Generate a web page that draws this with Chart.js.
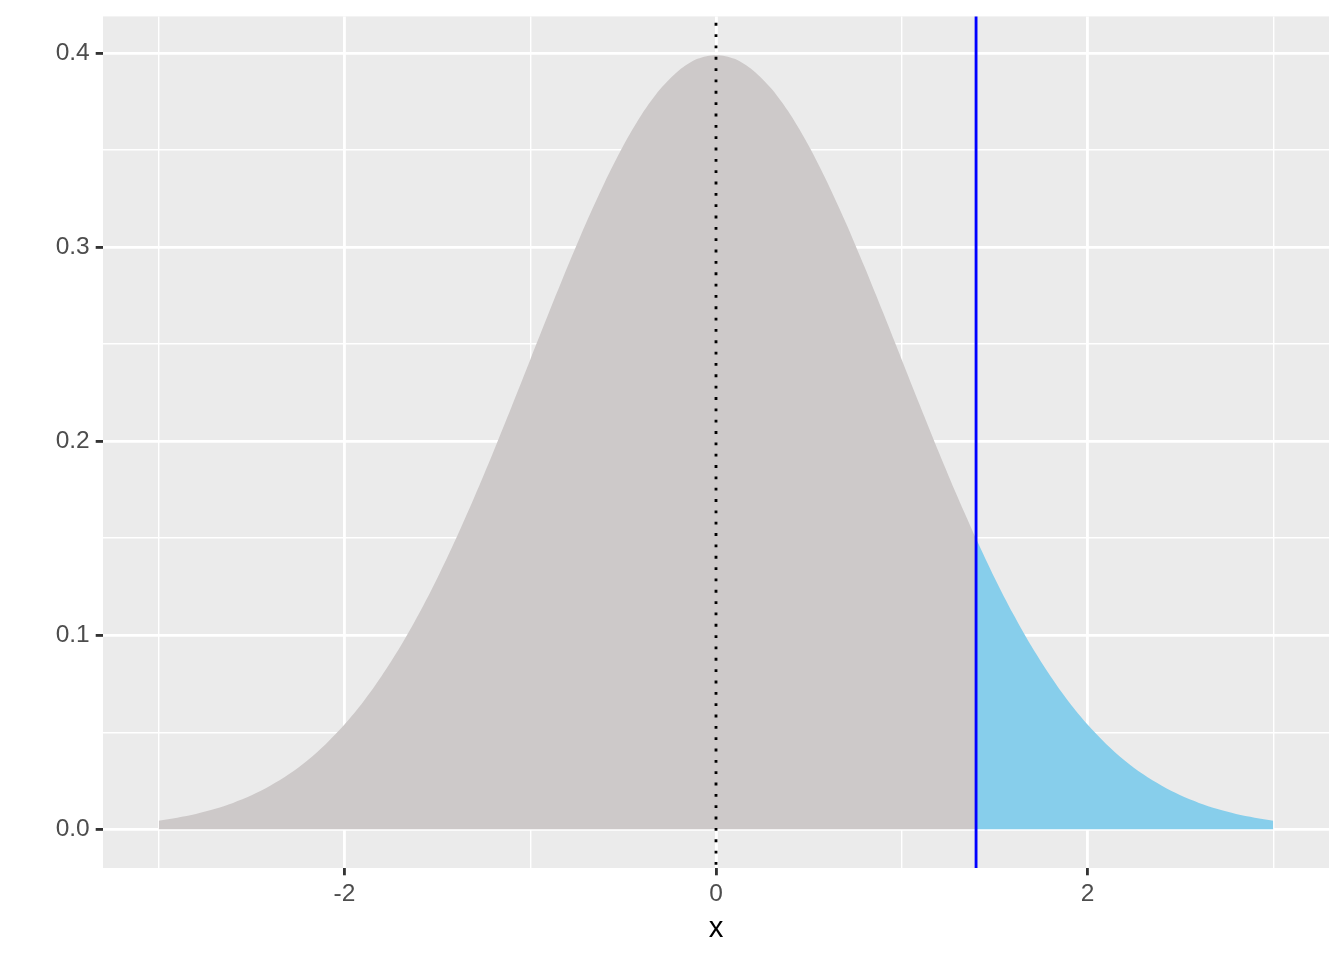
<!DOCTYPE html>
<html>
<head>
<meta charset="utf-8">
<script src="https://cdn.jsdelivr.net/npm/chart.js@4/dist/chart.umd.min.js"></script>
<style>
html,body{margin:0;padding:0;background:#fff;}
#wrap{width:1344px;height:960px;}
</style>
</head>
<body>
<div id="wrap"><canvas id="c" width="1344" height="960"></canvas></div>
<script>
// x values and density values
const xs = [-3.0,-2.9,-2.8,-2.7,-2.6,-2.5,-2.4,-2.3,-2.2,-2.1,-2.0,-1.9,-1.8,-1.7,-1.6,-1.5,-1.4,-1.3,-1.2,-1.1,-1.0,-0.9,-0.8,-0.7,-0.6,-0.5,-0.4,-0.3,-0.2,-0.1,0.0,0.1,0.2,0.3,0.4,0.5,0.6,0.7,0.8,0.9,1.0,1.1,1.2,1.3,1.4,1.5,1.6,1.7,1.8,1.9,2.0,2.1,2.2,2.3,2.4,2.5,2.6,2.7,2.8,2.9,3.0];
const density = [0.0044,0.0060,0.0079,0.0104,0.0136,0.0175,0.0224,0.0283,0.0355,0.0440,0.0540,0.0656,0.0790,0.0940,0.1109,0.1295,0.1497,0.1714,0.1942,0.2179,0.2420,0.2661,0.2897,0.3123,0.3332,0.3521,0.3683,0.3814,0.3910,0.3970,0.3989,0.3970,0.3910,0.3814,0.3683,0.3521,0.3332,0.3123,0.2897,0.2661,0.2420,0.2179,0.1942,0.1714,0.1497,0.1295,0.1109,0.0940,0.0790,0.0656,0.0540,0.0440,0.0355,0.0283,0.0224,0.0175,0.0136,0.0104,0.0079,0.0060,0.0044];
const cutoff = 1.4;
const meanLine = 0;
const xTicks = [-3,-2,-1,0,1,2,3];
const xLabels = ['', '-2', '', '0', '', '2', ''];
const yTicks = [0,0.05,0.1,0.15,0.2,0.25,0.3,0.35,0.4];
const yLabels = ['0.0','','0.1','','0.2','','0.3','','0.4'];

const lowerPts = [], upperPts = [];
xs.forEach((x,i)=>{
  if (x <= cutoff + 1e-9) lowerPts.push({x:x, y:density[i]});
  if (x >= cutoff - 1e-9) upperPts.push({x:x, y:density[i]});
});

const panelBg = {
  id:'panelBg',
  beforeDraw(chart){
    const {ctx, chartArea:a} = chart;
    ctx.save();
    ctx.fillStyle = '#EBEBEB';
    ctx.fillRect(a.left, a.top, a.right-a.left, a.bottom-a.top);
    ctx.restore();
  }
};

const MAJ = 2.84, MIN = 1.42;
const font = {family:'"Liberation Sans", Arial, sans-serif', size:24.5};

new Chart(document.getElementById('c'), {
  type:'line',
  data:{
    datasets:[
      {data:[{x:meanLine,y:-1},{x:meanLine,y:1}], borderColor:'#000000', borderWidth:2.84, borderDash:[2.84,8.5], borderCapStyle:'butt', pointRadius:0, fill:false, order:0},
      {data:[{x:cutoff,y:-1},{x:cutoff,y:1}], borderColor:'#0000FF', borderWidth:2.84, pointRadius:0, fill:false, order:0},
      {data:lowerPts, backgroundColor:'#CDC9C9', borderWidth:0, borderColor:'rgba(0,0,0,0)', pointRadius:0, fill:'origin', tension:0.3, order:1},
      {data:upperPts, backgroundColor:'#87CEEB', borderWidth:0, borderColor:'rgba(0,0,0,0)', pointRadius:0, fill:'origin', tension:0.3, order:1}
    ]
  },
  options:{
    responsive:false,
    devicePixelRatio:1,
    animation:false,
    layout:{padding:{top:16.4,right:15,left:0,bottom:0}},
    plugins:{legend:{display:false}, tooltip:{enabled:false}},
    scales:{
      x:{
        type:'linear', min:-3.3, max:3.3,
        afterBuildTicks(s){ s.ticks = xTicks.map(v=>({value:v})); },
        afterFit(s){ s.height = 92; s.paddingLeft = 0; s.paddingRight = 0; },
        ticks:{
          autoSkip:false, maxRotation:0, padding:4, color:'#4D4D4D', font:font,
          callback:(v,i)=>xLabels[i]
        },
        grid:{
          color:'#FFFFFF',
          lineWidth:c=> (xLabels[c.index] ? MAJ : MIN),
          tickColor:c=> (xLabels[c.index] ? '#333333' : 'rgba(0,0,0,0)'),
          tickWidth:MAJ, tickLength:7.3, drawTicks:true
        },
        border:{display:false},
        title:{display:true, text:'x', color:'#000000', font:{family:font.family, size:29.3}, padding:{top:2,bottom:14}}
      },
      y:{
        type:'linear', min:-0.01995, max:0.41887,
        afterBuildTicks(s){ s.ticks = yTicks.map(v=>({value:v})); },
        afterFit(s){ s.width = 103; s.paddingTop = 0; s.paddingBottom = 0; },
        ticks:{
          autoSkip:false, padding:6, color:'#4D4D4D', font:font,
          callback:(v,i)=>yLabels[i]
        },
        grid:{
          color:'#FFFFFF',
          lineWidth:c=> (yLabels[c.index] ? MAJ : MIN),
          tickColor:c=> (yLabels[c.index] ? '#333333' : 'rgba(0,0,0,0)'),
          tickWidth:MAJ, tickLength:7.3, drawTicks:true
        },
        border:{display:false}
      }
    }
  },
  plugins:[panelBg]
});
</script>
</body>
</html>
